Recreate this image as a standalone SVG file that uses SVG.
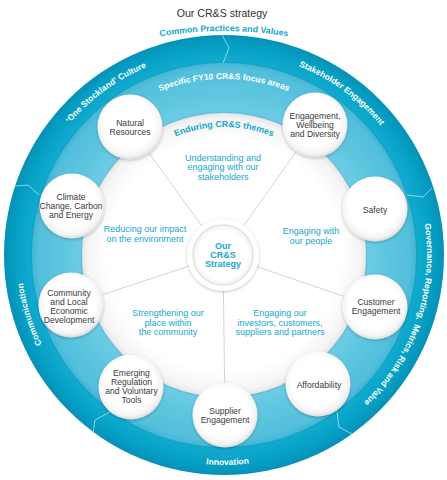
<svg xmlns="http://www.w3.org/2000/svg" width="447" height="480" viewBox="0 0 447 480">
<defs>
  <radialGradient id="gOuter" cx="224" cy="255" r="220" gradientUnits="userSpaceOnUse">
    <stop offset="0.86" stop-color="#16ADD2"/>
    <stop offset="0.94" stop-color="#07A2C7"/>
    <stop offset="1" stop-color="#0591B7"/>
  </radialGradient>
  <radialGradient id="gMid" cx="224" cy="255" r="192" gradientUnits="userSpaceOnUse">
    <stop offset="0.73" stop-color="#6FCDE5"/>
    <stop offset="0.86" stop-color="#5DC5DF"/>
    <stop offset="0.97" stop-color="#53BFDB"/>
    <stop offset="1" stop-color="#44B6D5"/>
  </radialGradient>
  <radialGradient id="gInner" cx="224" cy="255" r="142" gradientUnits="userSpaceOnUse">
    <stop offset="0.82" stop-color="#FFFFFF"/>
    <stop offset="0.96" stop-color="#F4F4F4"/>
    <stop offset="1" stop-color="#E6E6E6"/>
  </radialGradient>
  <radialGradient id="gNode" cx="0.48" cy="0.45" r="0.55">
    <stop offset="0.7" stop-color="#FFFFFF"/>
    <stop offset="0.9" stop-color="#F3F3F3"/>
    <stop offset="1" stop-color="#DCDCDC"/>
  </radialGradient>
  <radialGradient id="gCore" cx="0.5" cy="0.5" r="0.5">
    <stop offset="0.8" stop-color="#FFFFFF"/>
    <stop offset="1" stop-color="#F2F2F2"/>
  </radialGradient>
  <filter id="shadow" x="-30%" y="-30%" width="160%" height="160%">
    <feDropShadow dx="0" dy="1" stdDeviation="1.5" flood-color="#000" flood-opacity="0.25"/>
  </filter>
  <filter id="ringShadow" x="-10%" y="-10%" width="120%" height="120%">
    <feDropShadow dx="0" dy="0" stdDeviation="1.8" flood-color="#0A5E75" flood-opacity="0.3"/>
  </filter>
  <path id="pStock" d="M27.03,205.89 A203,203 0 0 1 238.16,52.49"/>
  <path id="pStake" d="M209.84,52.49 A203,203 0 0 1 420.97,205.89"/>
  <path id="pGov" d="M377.2,121.81 A203,203 0 0 1 262.73,454.26"/>
  <path id="pComm" d="M113.44,425.26 A203,203 0 0 1 37.14,175.69"/>
  <path id="pInno" d="M122.19,438.66 A210,210 0 0 0 332.15,435.0"/>
  <path id="pSpec" d="M99.55,130.55 A176,176 0 0 1 348.45,130.55"/>
  <path id="pEndu" d="M125.95,172.72 A128,128 0 0 1 322.05,172.72"/>
  <path id="pCommon" d="M39,80.6 A370,370 0 0 1 409,80.6"/>
</defs>
<style>
  text { font-family: "Liberation Sans", Arial, sans-serif; }
  .ring { font-size: 8.5px; font-weight: bold; fill: #FFFFFF; }
  .blueArc { font-size: 8.8px; font-weight: bold; fill: #17A6CD; }
  .theme { font-size: 9px; fill: #17A6CD; text-anchor: middle; }
  .node circle { fill: url(#gNode); filter: url(#shadow); }
  .node text { font-size: 8.6px; fill: #3A3A3A; text-anchor: middle; }
  .spoke { stroke: #CFCFCF; stroke-width: 0.9; fill: none; }
  .divider { stroke: #A9E0EE; stroke-width: 0.8; fill: none; }
</style>

<rect x="0" y="0" width="447" height="480" fill="#FFFFFF"/>

<text x="222" y="17" font-size="10.6" fill="#333333" text-anchor="middle">Our CR&amp;S strategy</text>
<text class="blueArc"><textPath href="#pCommon" startOffset="50%" text-anchor="middle">Common Practices and Values</textPath></text>

<g id="rings">
  <circle cx="224" cy="255" r="220" fill="url(#gOuter)"/>
  <circle cx="224" cy="255" r="192" fill="url(#gMid)" filter="url(#ringShadow)"/>
  <circle cx="224" cy="255" r="142" fill="url(#gInner)" filter="url(#ringShadow)"/>
  <path class="divider" d="M222,35 L229,48 L223,63"/>
  <path class="divider" d="M15,186 L28,185 L39,195"/>
  <path class="divider" d="M407,195 L423,197 L432,188"/>
  <path class="divider" d="M110,412 L95,420 L93,433"/>
  <path class="divider" d="M337,412 L339,427 L352,434"/>
</g>

<g id="ring-labels">
  <text class="ring"><textPath href="#pStock" startOffset="103" text-anchor="middle">‘One</textPath></text>
  <text class="ring"><textPath href="#pStock" startOffset="136.3" text-anchor="middle">Stockland’</textPath></text>
  <text class="ring"><textPath href="#pStock" startOffset="175" text-anchor="middle">Culture</textPath></text>
  <text class="ring"><textPath href="#pStake" startOffset="115" text-anchor="middle">Stakeholder</textPath></text>
  <text class="ring"><textPath href="#pStake" startOffset="167.2" text-anchor="middle">Engagement</textPath></text>
  <text class="ring"><textPath href="#pGov" startOffset="162.3" text-anchor="middle">Governance, Reporting,</textPath></text>
  <text class="ring"><textPath href="#pGov" startOffset="262.5" text-anchor="middle">Metrics, Risk and Value</textPath></text>
  <text class="ring"><textPath href="#pComm" startOffset="50%" text-anchor="middle">Communication</textPath></text>
  <text class="ring"><textPath href="#pInno" startOffset="50%" text-anchor="middle">Innovation</textPath></text>
  <text class="ring" font-size="8.7"><textPath href="#pSpec" startOffset="50%" text-anchor="middle">Specific FY10 CR&amp;S focus areas</textPath></text>
  <text class="blueArc" font-size="8.6"><textPath href="#pEndu" startOffset="50%" text-anchor="middle">Enduring CR&amp;S themes</textPath></text>
</g>

<g id="connectors">
  <line class="spoke" x1="223" y1="255" x2="130" y2="127"/>
  <line class="spoke" x1="223" y1="255" x2="315" y2="125"/>
  <line class="spoke" x1="223" y1="255" x2="375" y2="307"/>
  <line class="spoke" x1="223" y1="255" x2="225" y2="415"/>
  <line class="spoke" x1="223" y1="255" x2="71" y2="305"/>
</g>

<g id="themes">
  <text class="theme"><tspan x="223" y="160.5">Understanding and</tspan><tspan x="223" y="170">engaging with our</tspan><tspan x="223" y="179.5">stakeholders</tspan></text>
  <text class="theme"><tspan x="145" y="232">Reducing our impact</tspan><tspan x="145" y="241.5">on the environment</tspan></text>
  <text class="theme"><tspan x="311" y="234">Engaging with</tspan><tspan x="311" y="243.5">our people</tspan></text>
  <text class="theme"><tspan x="168" y="316">Strengthening our</tspan><tspan x="168" y="325.5">place within</tspan><tspan x="168" y="335">the community</tspan></text>
  <text class="theme"><tspan x="280" y="316">Engaging our</tspan><tspan x="280" y="325.5">investors, customers,</tspan><tspan x="280" y="335">suppliers and partners</tspan></text>
</g>

<g id="center">
  <circle cx="223" cy="255" r="36" fill="#FFFFFF" filter="url(#shadow)"/>
  <circle cx="223" cy="255" r="30" fill="url(#gCore)" stroke="#E3E3E3" stroke-width="1.5"/>
  <text font-size="9" font-weight="bold" fill="#17A6CD" text-anchor="middle"><tspan x="223" y="249">Our</tspan><tspan x="223" y="258">CR&amp;S</tspan><tspan x="223" y="267">Strategy</tspan></text>
</g>

<g id="node-natural-resources" class="node">
  <circle cx="130" cy="127" r="32.5"/>
  <text><tspan x="130" y="125.5">Natural</tspan><tspan x="130" y="134.5">Resources</tspan></text>
</g>
<g id="node-engagement-wellbeing" class="node">
  <circle cx="315" cy="125" r="32.5"/>
  <text><tspan x="315" y="119">Engagement,</tspan><tspan x="315" y="128">Wellbeing</tspan><tspan x="315" y="137">and Diversity</tspan></text>
</g>
<g id="node-climate" class="node">
  <circle cx="72" cy="206" r="32.5"/>
  <text><tspan x="71" y="199.5">Climate</tspan><tspan x="71" y="208.5">Change, Carbon</tspan><tspan x="71" y="217.5">and Energy</tspan></text>
</g>
<g id="node-safety" class="node">
  <circle cx="375" cy="209" r="32.5"/>
  <text><tspan x="375" y="212.5">Safety</tspan></text>
</g>
<g id="node-community" class="node">
  <circle cx="71" cy="305" r="32.5"/>
  <text><tspan x="69" y="296">Community</tspan><tspan x="69" y="305">and Local</tspan><tspan x="69" y="314">Economic</tspan><tspan x="69" y="323">Development</tspan></text>
</g>
<g id="node-customer" class="node">
  <circle cx="375" cy="307" r="32.5"/>
  <text><tspan x="376" y="305">Customer</tspan><tspan x="376" y="314">Engagement</tspan></text>
</g>
<g id="node-emerging" class="node">
  <circle cx="131" cy="387" r="32.5"/>
  <text><tspan x="131.5" y="376">Emerging</tspan><tspan x="131.5" y="385">Regulation</tspan><tspan x="131.5" y="394">and Voluntary</tspan><tspan x="131.5" y="403">Tools</tspan></text>
</g>
<g id="node-supplier" class="node">
  <circle cx="225" cy="415" r="32.5"/>
  <text><tspan x="225" y="413.5">Supplier</tspan><tspan x="225" y="422.5">Engagement</tspan></text>
</g>
<g id="node-affordability" class="node">
  <circle cx="318" cy="384" r="32.5"/>
  <text><tspan x="319" y="387.5">Affordability</tspan></text>
</g>
</svg>
